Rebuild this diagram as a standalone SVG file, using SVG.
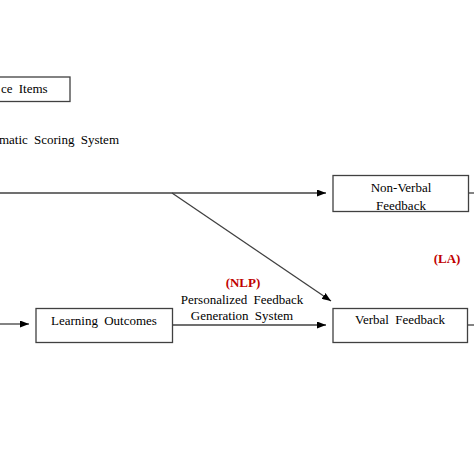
<svg xmlns="http://www.w3.org/2000/svg" width="474" height="474" viewBox="0 0 474 474">
<style>
.box{fill:#fff;stroke:#404040;stroke-width:1.3}
.t{font-family:"Liberation Serif","Times New Roman",serif;font-size:13px;fill:#000;word-spacing:3px}
.r{font-family:"Liberation Serif","Times New Roman",serif;font-size:13px;font-weight:bold;fill:#c00000}
.ln{stroke:#404040;stroke-width:1.3;fill:none}
</style>
<defs>
<marker id="ah" markerWidth="9" markerHeight="7" refX="9" refY="3.5" orient="auto" markerUnits="userSpaceOnUse">
<path d="M0,0 L9,3.5 L0,7 Z" fill="#000"/>
</marker>
</defs>
<rect width="474" height="474" fill="#fff"/>
<g id="connectors">
<line class="ln" x1="0" y1="193" x2="326" y2="193" marker-end="url(#ah)"/>
<line class="ln" x1="172" y1="193" x2="331" y2="301" marker-end="url(#ah)"/>
<line class="ln" x1="468" y1="193" x2="474" y2="193"/>
<line class="ln" x1="0" y1="324" x2="29" y2="324" marker-end="url(#ah)"/>
<line class="ln" x1="172" y1="325" x2="326" y2="325" marker-end="url(#ah)"/>
<line class="ln" x1="467" y1="325" x2="474" y2="325"/>
</g>
<g id="items">
<rect class="box" x="-10" y="77" width="80" height="24.5"/>
<text class="t" x="1" y="93">ce Items</text>
</g>
<g id="scoring">
<text class="t" x="119" y="144" text-anchor="end">matic Scoring System</text>
</g>
<g id="nonverbal">
<rect class="box" x="333" y="175.5" width="135.5" height="36"/>
<text class="t" x="401" y="191.5" text-anchor="middle">Non-Verbal</text>
<text class="t" x="401" y="209.5" text-anchor="middle">Feedback</text>
</g>
<g id="la">
<text class="r" x="447" y="263" text-anchor="middle">(LA)</text>
</g>
<g id="learning">
<rect class="box" x="36" y="308.5" width="136.5" height="34"/>
<text class="t" x="104" y="324.5" text-anchor="middle">Learning Outcomes</text>
</g>
<g id="nlp">
<text class="r" x="243" y="287" text-anchor="middle">(NLP)</text>
<text class="t" x="242" y="303.5" text-anchor="middle">Personalized Feedback</text>
<text class="t" x="242" y="320" text-anchor="middle">Generation System</text>
</g>
<g id="verbal">
<rect class="box" x="333" y="308.5" width="134.5" height="34"/>
<text class="t" x="400" y="324" text-anchor="middle">Verbal Feedback</text>
</g>
</svg>
